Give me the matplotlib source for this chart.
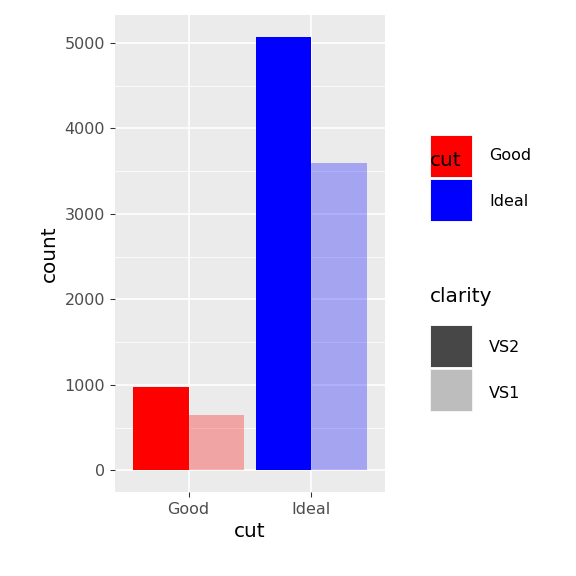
import matplotlib
matplotlib.use("Agg")
import matplotlib.pyplot as plt
from matplotlib.patches import Rectangle
import numpy as np

cuts = ["Good", "Ideal"]
clarities = ["VS2", "VS1"]
vs2 = [978, 5071]
vs1 = [648, 3589]
cut_colors = ["#FF0000", "#0000FF"]
alphas = [1.0, 0.3]

fig = plt.figure(figsize=(6, 6), dpi=96)
ax = fig.add_axes([115/576, 84/576, 270/576, 477/576])
ax.set_facecolor("#EBEBEB")
x = np.arange(1, len(cuts) + 1)
w = 0.45
for i, (a, b) in enumerate(zip(vs2, vs1)):
    ax.bar(x[i] - w/2, a, w, color=cut_colors[i], alpha=alphas[0], zorder=3)
    ax.bar(x[i] + w/2, b, w, color=cut_colors[i], alpha=alphas[1], zorder=3)
ax.set_xlim(0.4, 2.6)
ax.set_ylim(-253.5, 5324.5)
ax.set_xticks(x)
ax.set_xticklabels(cuts)
ax.set_yticks([0, 1000, 2000, 3000, 4000, 5000])
ax.set_yticks([500, 1500, 2500, 3500, 4500], minor=True)
ax.grid(True, which="major", color="white", lw=1.2, zorder=0)
ax.grid(True, which="minor", axis="y", color="white", lw=0.6, zorder=0)
for s in ax.spines.values():
    s.set_visible(False)
ax.tick_params(which="major", length=4, color="#333333", labelsize=12, labelcolor="#4D4D4D")
ax.tick_params(which="minor", length=0)
ax.set_xlabel("cut", fontsize=15)
ax.set_ylabel("count", fontsize=15)

def key(y_top, color, alpha=1.0):
    fig.patches.append(Rectangle((430/576, 1 - (y_top + 43)/576), 43/576, 43/576,
                                 transform=fig.transFigure, facecolor="#F2F2F2",
                                 edgecolor="none"))
    fig.patches.append(Rectangle((431/576, 1 - (y_top + 42)/576), 41/576, 41/576,
                                 transform=fig.transFigure, facecolor=color, alpha=alpha,
                                 edgecolor="none"))

fig.text(430/576, 1 - 160/576, "cut", fontsize=15, va="center")
key(135, cut_colors[0]); key(179, cut_colors[1])
fig.text(489/576, 1 - 156/576, cuts[0], fontsize=12, va="center")
fig.text(489/576, 1 - 202/576, cuts[1], fontsize=12, va="center")
fig.text(430/576, 1 - 297/576, "clarity", fontsize=15, va="center")
key(325, "#474747"); key(369, "#BDBDBD")
fig.text(489/576, 1 - 347/576, clarities[0], fontsize=12, va="center")
fig.text(489/576, 1 - 393/576, clarities[1], fontsize=12, va="center")

fig.savefig("out.png", dpi=96)
